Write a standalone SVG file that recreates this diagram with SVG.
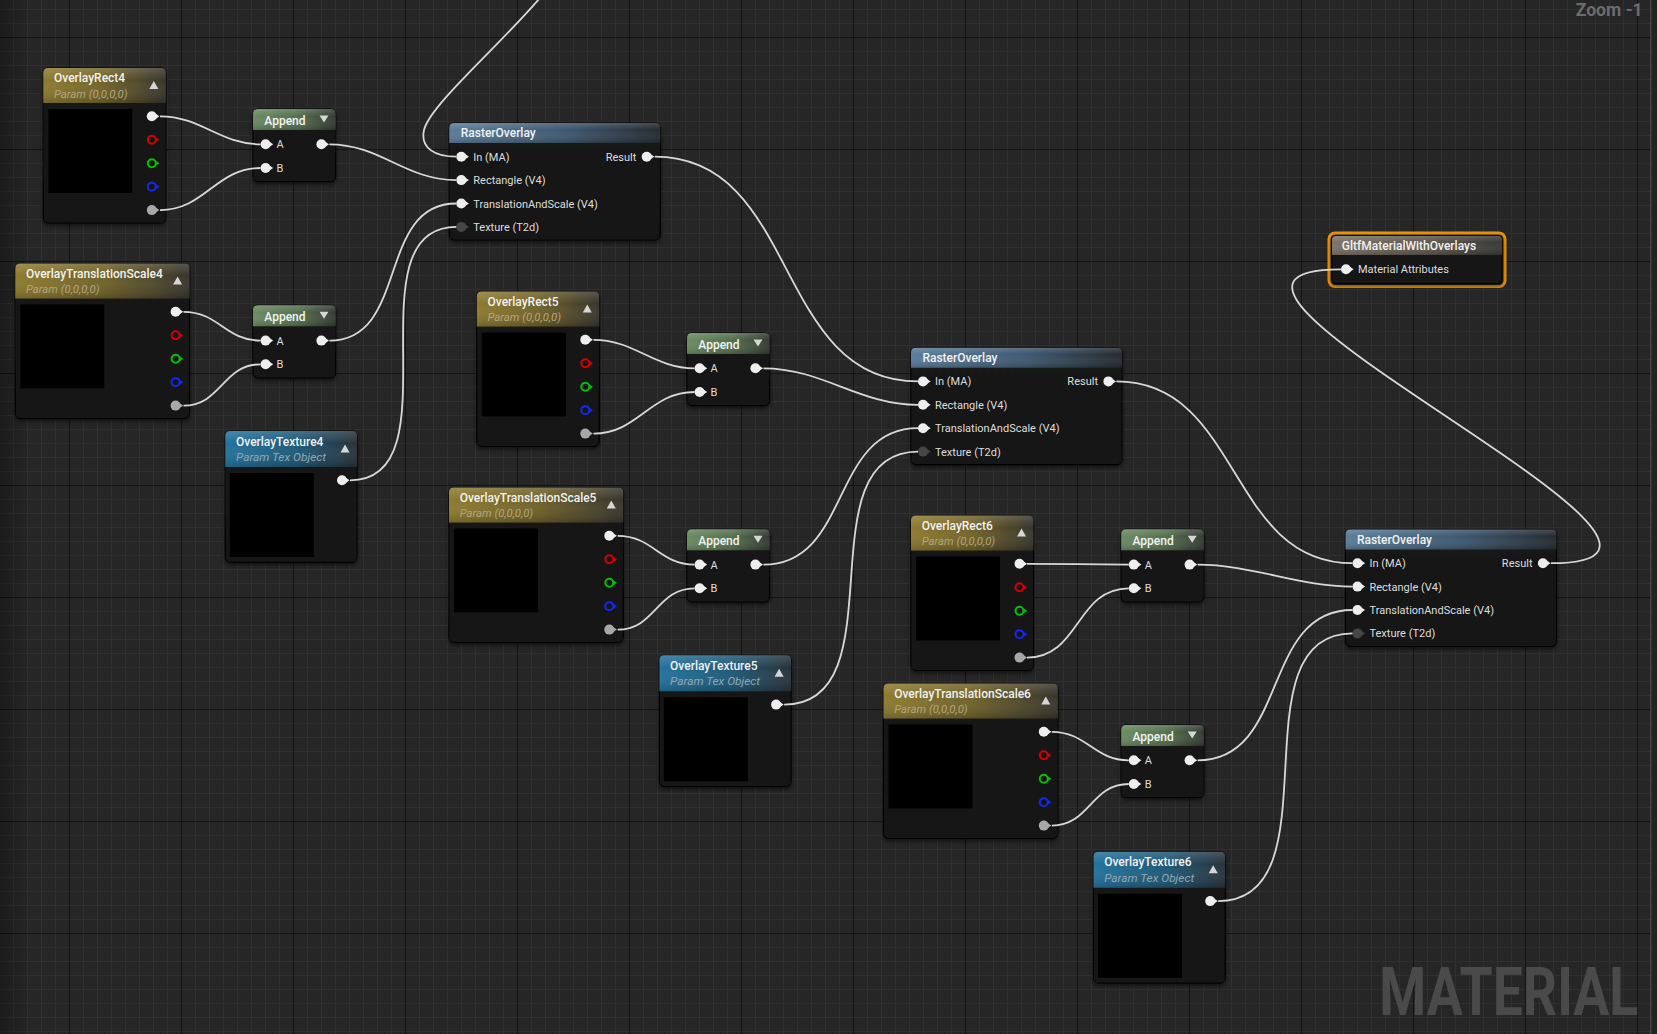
<svg xmlns="http://www.w3.org/2000/svg" xmlns:xlink="http://www.w3.org/1999/xlink" width="1657" height="1034" viewBox="0 0 1657 1034">
<defs>
<style>
.t{font-family:Roboto,"Liberation Sans",sans-serif;font-size:12px;font-weight:500;fill:#f2f2f2}
.st{font-family:Roboto,"Liberation Sans",sans-serif;font-size:11.5px;font-style:italic;fill:#b3a57a}
.sb{font-family:Roboto,"Liberation Sans",sans-serif;font-size:11.5px;font-style:italic;fill:#8ea8b6}
.pl{font-family:Roboto,"Liberation Sans",sans-serif;font-size:11px;fill:#dedede}
.nb{fill:url(#gBody);stroke:#060606;stroke-width:1;filter:url(#sh)}
.pv{fill:#000}
.tri{fill:#d6d6d6}
.w{fill:none;stroke:#d8d8d8;stroke-width:1.8}
.hg{fill:url(#gGold)}
.hb{fill:url(#gBlue)}
.ht{fill:url(#gTex)}
.ha{fill:url(#gGreen)}
.hy{fill:url(#gGray)}
.gl{fill:url(#gGloss)}
</style>
<linearGradient id="gBody" x1="0" y1="0" x2="0" y2="1"><stop offset="0" stop-color="#1a1b1a"/><stop offset="1" stop-color="#121312"/></linearGradient>
<linearGradient id="gGold" x1="0" y1="0" x2="1" y2="0"><stop offset="0" stop-color="#8e7b2f"/><stop offset="0.5" stop-color="#706228"/><stop offset="1" stop-color="#37352d"/></linearGradient>
<linearGradient id="gBlue" x1="0" y1="0" x2="1" y2="0"><stop offset="0" stop-color="#5a7d9a"/><stop offset="0.55" stop-color="#3e5870"/><stop offset="1" stop-color="#252a2f"/></linearGradient>
<linearGradient id="gTex" x1="0" y1="0" x2="1" y2="0"><stop offset="0" stop-color="#23739e"/><stop offset="0.55" stop-color="#1e5877"/><stop offset="1" stop-color="#29323a"/></linearGradient>
<linearGradient id="gGreen" x1="0" y1="0" x2="1" y2="0"><stop offset="0" stop-color="#6b8b63"/><stop offset="0.55" stop-color="#55704e"/><stop offset="1" stop-color="#343a33"/></linearGradient>
<linearGradient id="gGray" x1="0" y1="0" x2="1" y2="0"><stop offset="0" stop-color="#7d7467"/><stop offset="0.6" stop-color="#5a544c"/><stop offset="1" stop-color="#393836"/></linearGradient>
<linearGradient id="gGloss" x1="0" y1="0" x2="0" y2="1"><stop offset="0" stop-color="#fff" stop-opacity="0.16"/><stop offset="0.35" stop-color="#fff" stop-opacity="0"/><stop offset="1" stop-color="#000" stop-opacity="0.18"/></linearGradient>
<linearGradient id="gVig" x1="0" y1="0" x2="1" y2="0"><stop offset="0" stop-color="#000" stop-opacity="0.3"/><stop offset="1" stop-color="#000" stop-opacity="0"/></linearGradient>
<filter id="sh" x="-10%" y="-10%" width="120%" height="125%"><feDropShadow dx="0" dy="2" stdDeviation="2" flood-color="#000" flood-opacity="0.6"/></filter>
<pattern id="gm" width="14" height="14" patternUnits="userSpaceOnUse" x="13" y="9"><path d="M0.5,0V14M0,0.5H14" stroke="#303030" stroke-width="1"/></pattern>
<pattern id="gM" width="112" height="112" patternUnits="userSpaceOnUse" x="69" y="37"><path d="M0.5,0V112M0,0.5H112" stroke="#141414" stroke-width="1"/></pattern>
<g id="pw"><circle r="5" fill="#eeeeee"/><path d="M3.8,-2.6L7.6,0L3.8,2.6Z" fill="#eeeeee"/></g>
<g id="pr"><circle r="4" fill="none" stroke="#d40000" stroke-width="2"/><path d="M4.6,-2.3L7.6,0L4.6,2.3Z" fill="#d40000"/></g>
<g id="pg"><circle r="4" fill="none" stroke="#00c400" stroke-width="2"/><path d="M4.6,-2.3L7.6,0L4.6,2.3Z" fill="#00c400"/></g>
<g id="pb"><circle r="4" fill="none" stroke="#1428ee" stroke-width="2"/><path d="M4.6,-2.3L7.6,0L4.6,2.3Z" fill="#1428ee"/></g>
<g id="pa"><circle r="5" fill="#a8a8a8"/><path d="M3.8,-2.6L7.6,0L3.8,2.6Z" fill="#a8a8a8"/></g>
<g id="pd"><circle r="5" fill="#464646"/><path d="M3.8,-2.6L7.6,0L3.8,2.6Z" fill="#464646"/></g>
</defs>

<g id="background">
<rect width="1657" height="1034" fill="#262626"/>
<rect width="1657" height="1034" fill="url(#gm)"/>
<rect width="1657" height="1034" fill="url(#gM)"/>
<rect width="30" height="1034" fill="url(#gVig)"/>
<rect x="1651" y="0" width="6" height="1034" fill="#232323"/>
<rect x="1650" y="0" width="1.5" height="1034" fill="#444444"/>
<text x="1575.7" y="15.7" font-family="Roboto,'Liberation Sans',sans-serif" font-size="18" font-weight="700" fill="#6c6c6c" textLength="67" lengthAdjust="spacingAndGlyphs">Zoom -1</text>
<text x="1379.3" y="1015" font-family="Roboto,'Liberation Sans',sans-serif" font-size="66" font-weight="700" fill="#4a4a4a" textLength="259" lengthAdjust="spacingAndGlyphs">MATERIAL</text>
</g>

<g id="OverlayRect4" transform="translate(43.3,68)">
<rect class="nb" width="122.5" height="155" rx="5"/>
<path class="hg" d="M0,35V5Q0,0 5,0H117.5Q122.5,0 122.5,5V35Z"/><path class="gl" d="M0,35V5Q0,0 5,0H117.5Q122.5,0 122.5,5V35Z"/>
<text class="t" x="10.7" y="14">OverlayRect4</text><text class="st" x="10.7" y="29.5" textLength="73.5" lengthAdjust="spacingAndGlyphs">Param (0,0,0,0)</text>
<path class="tri" d="M106,21L110.5,13L115,21Z"/>
<rect class="pv" x="5" y="41" width="84" height="84"/>
<use href="#pw" x="108.5" y="48.3"/><use href="#pr" x="108.5" y="71.75"/><use href="#pg" x="108.5" y="95.2"/><use href="#pb" x="108.5" y="118.65"/><use href="#pa" x="108.5" y="142.1"/>
</g>

<g id="OverlayTranslationScale4" transform="translate(15.3,263.5)">
<rect class="nb" width="174.3" height="155" rx="5"/>
<path class="hg" d="M0,35V5Q0,0 5,0H169.3Q174.3,0 174.3,5V35Z"/><path class="gl" d="M0,35V5Q0,0 5,0H169.3Q174.3,0 174.3,5V35Z"/>
<text class="t" x="10.7" y="14">OverlayTranslationScale4</text><text class="st" x="10.7" y="29.5" textLength="73.5" lengthAdjust="spacingAndGlyphs">Param (0,0,0,0)</text>
<path class="tri" d="M157.8,21L162.3,13L166.8,21Z"/>
<rect class="pv" x="5" y="41" width="84" height="84"/>
<use href="#pw" x="160.3" y="48.3"/><use href="#pr" x="160.3" y="71.75"/><use href="#pg" x="160.3" y="95.2"/><use href="#pb" x="160.3" y="118.65"/><use href="#pa" x="160.3" y="142.1"/>
</g>

<g id="OverlayTexture4" transform="translate(225.3,431)">
<rect class="nb" width="131.7" height="131.3" rx="5"/>
<path class="ht" d="M0,36V5Q0,0 5,0H126.7Q131.7,0 131.7,5V36Z"/><path class="gl" d="M0,36V5Q0,0 5,0H126.7Q131.7,0 131.7,5V36Z"/>
<text class="t" x="10.7" y="14.7">OverlayTexture4</text><text class="sb" x="10.7" y="30" textLength="90" lengthAdjust="spacingAndGlyphs">Param Tex Object</text>
<path class="tri" d="M115.2,21.5L119.7,13.5L124.2,21.5Z"/>
<rect class="pv" x="4.5" y="42" width="84" height="84"/>
<use href="#pw" x="116.7" y="49.3"/>
</g>

<g id="Append1" transform="translate(253,109)">
<rect class="nb" width="82.7" height="72.7" rx="5"/>
<path class="ha" d="M0,21V5Q0,0 5,0H77.7Q82.7,0 82.7,5V21Z"/><path class="gl" d="M0,21V5Q0,0 5,0H77.7Q82.7,0 82.7,5V21Z"/>
<text class="t" x="11.3" y="15.5">Append</text>
<path class="tri" d="M66.5,6.5H75.5L71,13.5Z"/>
<use href="#pw" x="12.6" y="35.3"/><use href="#pw" x="12.6" y="59"/><use href="#pw" x="68.4" y="35.3"/>
<text class="pl" x="23.5" y="39.3">A</text><text class="pl" x="23.5" y="63">B</text>
</g>

<g id="Append2" transform="translate(253,305.3)">
<rect class="nb" width="82.7" height="72.7" rx="5"/>
<path class="ha" d="M0,21V5Q0,0 5,0H77.7Q82.7,0 82.7,5V21Z"/><path class="gl" d="M0,21V5Q0,0 5,0H77.7Q82.7,0 82.7,5V21Z"/>
<text class="t" x="11.3" y="15.5">Append</text>
<path class="tri" d="M66.5,6.5H75.5L71,13.5Z"/>
<use href="#pw" x="12.6" y="35.3"/><use href="#pw" x="12.6" y="59"/><use href="#pw" x="68.4" y="35.3"/>
<text class="pl" x="23.5" y="39.3">A</text><text class="pl" x="23.5" y="63">B</text>
</g>

<g id="RasterOverlay1" transform="translate(449.3,123)">
<rect class="nb" width="211" height="117" rx="5"/>
<path class="hb" d="M0,20V5Q0,0 5,0H206Q211,0 211,5V20Z"/><path class="gl" d="M0,20V5Q0,0 5,0H206Q211,0 211,5V20Z"/>
<text class="t" x="11.4" y="14.3">RasterOverlay</text>
<use href="#pw" x="12" y="33.7"/><use href="#pw" x="12" y="57.1"/><use href="#pw" x="12" y="80.5"/><use href="#pd" x="12" y="103.9"/><use href="#pw" x="197.4" y="33.7"/>
<text class="pl" x="24" y="37.7">In (MA)</text><text class="pl" x="24" y="61.1">Rectangle (V4)</text><text class="pl" x="24" y="84.5">TranslationAndScale (V4)</text><text class="pl" x="24" y="107.9">Texture (T2d)</text>
<text class="pl" x="187" y="37.7" text-anchor="end">Result</text>
</g>

<g id="OverlayRect5" transform="translate(476.8,291.5)">
<rect class="nb" width="122.5" height="155" rx="5"/>
<path class="hg" d="M0,35V5Q0,0 5,0H117.5Q122.5,0 122.5,5V35Z"/><path class="gl" d="M0,35V5Q0,0 5,0H117.5Q122.5,0 122.5,5V35Z"/>
<text class="t" x="10.7" y="14">OverlayRect5</text><text class="st" x="10.7" y="29.5" textLength="73.5" lengthAdjust="spacingAndGlyphs">Param (0,0,0,0)</text>
<path class="tri" d="M106,21L110.5,13L115,21Z"/>
<rect class="pv" x="5" y="41" width="84" height="84"/>
<use href="#pw" x="108.5" y="48.3"/><use href="#pr" x="108.5" y="71.75"/><use href="#pg" x="108.5" y="95.2"/><use href="#pb" x="108.5" y="118.65"/><use href="#pa" x="108.5" y="142.1"/>
</g>

<g id="Append3" transform="translate(687,333)">
<rect class="nb" width="82.7" height="72.7" rx="5"/>
<path class="ha" d="M0,21V5Q0,0 5,0H77.7Q82.7,0 82.7,5V21Z"/><path class="gl" d="M0,21V5Q0,0 5,0H77.7Q82.7,0 82.7,5V21Z"/>
<text class="t" x="11.3" y="15.5">Append</text>
<path class="tri" d="M66.5,6.5H75.5L71,13.5Z"/>
<use href="#pw" x="12.6" y="35.3"/><use href="#pw" x="12.6" y="59"/><use href="#pw" x="68.4" y="35.3"/>
<text class="pl" x="23.5" y="39.3">A</text><text class="pl" x="23.5" y="63">B</text>
</g>

<g id="OverlayTranslationScale5" transform="translate(449,487.5)">
<rect class="nb" width="174.3" height="155" rx="5"/>
<path class="hg" d="M0,35V5Q0,0 5,0H169.3Q174.3,0 174.3,5V35Z"/><path class="gl" d="M0,35V5Q0,0 5,0H169.3Q174.3,0 174.3,5V35Z"/>
<text class="t" x="10.7" y="14">OverlayTranslationScale5</text><text class="st" x="10.7" y="29.5" textLength="73.5" lengthAdjust="spacingAndGlyphs">Param (0,0,0,0)</text>
<path class="tri" d="M157.8,21L162.3,13L166.8,21Z"/>
<rect class="pv" x="5" y="41" width="84" height="84"/>
<use href="#pw" x="160.3" y="48.3"/><use href="#pr" x="160.3" y="71.75"/><use href="#pg" x="160.3" y="95.2"/><use href="#pb" x="160.3" y="118.65"/><use href="#pa" x="160.3" y="142.1"/>
</g>

<g id="Append4" transform="translate(687,529.3)">
<rect class="nb" width="82.7" height="72.7" rx="5"/>
<path class="ha" d="M0,21V5Q0,0 5,0H77.7Q82.7,0 82.7,5V21Z"/><path class="gl" d="M0,21V5Q0,0 5,0H77.7Q82.7,0 82.7,5V21Z"/>
<text class="t" x="11.3" y="15.5">Append</text>
<path class="tri" d="M66.5,6.5H75.5L71,13.5Z"/>
<use href="#pw" x="12.6" y="35.3"/><use href="#pw" x="12.6" y="59"/><use href="#pw" x="68.4" y="35.3"/>
<text class="pl" x="23.5" y="39.3">A</text><text class="pl" x="23.5" y="63">B</text>
</g>

<g id="OverlayTexture5" transform="translate(659.4,655.3)">
<rect class="nb" width="131.7" height="131.3" rx="5"/>
<path class="ht" d="M0,36V5Q0,0 5,0H126.7Q131.7,0 131.7,5V36Z"/><path class="gl" d="M0,36V5Q0,0 5,0H126.7Q131.7,0 131.7,5V36Z"/>
<text class="t" x="10.7" y="14.7">OverlayTexture5</text><text class="sb" x="10.7" y="30" textLength="90" lengthAdjust="spacingAndGlyphs">Param Tex Object</text>
<path class="tri" d="M115.2,21.5L119.7,13.5L124.2,21.5Z"/>
<rect class="pv" x="4.5" y="42" width="84" height="84"/>
<use href="#pw" x="116.7" y="49.3"/>
</g>

<g id="RasterOverlay2" transform="translate(911,347.7)">
<rect class="nb" width="211" height="117" rx="5"/>
<path class="hb" d="M0,20V5Q0,0 5,0H206Q211,0 211,5V20Z"/><path class="gl" d="M0,20V5Q0,0 5,0H206Q211,0 211,5V20Z"/>
<text class="t" x="11.4" y="14.3">RasterOverlay</text>
<use href="#pw" x="12" y="33.7"/><use href="#pw" x="12" y="57.1"/><use href="#pw" x="12" y="80.5"/><use href="#pd" x="12" y="103.9"/><use href="#pw" x="197.4" y="33.7"/>
<text class="pl" x="24" y="37.7">In (MA)</text><text class="pl" x="24" y="61.1">Rectangle (V4)</text><text class="pl" x="24" y="84.5">TranslationAndScale (V4)</text><text class="pl" x="24" y="107.9">Texture (T2d)</text>
<text class="pl" x="187" y="37.7" text-anchor="end">Result</text>
</g>

<g id="OverlayRect6" transform="translate(911,515.5)">
<rect class="nb" width="122.5" height="155" rx="5"/>
<path class="hg" d="M0,35V5Q0,0 5,0H117.5Q122.5,0 122.5,5V35Z"/><path class="gl" d="M0,35V5Q0,0 5,0H117.5Q122.5,0 122.5,5V35Z"/>
<text class="t" x="10.7" y="14">OverlayRect6</text><text class="st" x="10.7" y="29.5" textLength="73.5" lengthAdjust="spacingAndGlyphs">Param (0,0,0,0)</text>
<path class="tri" d="M106,21L110.5,13L115,21Z"/>
<rect class="pv" x="5" y="41" width="84" height="84"/>
<use href="#pw" x="108.5" y="48.3"/><use href="#pr" x="108.5" y="71.75"/><use href="#pg" x="108.5" y="95.2"/><use href="#pb" x="108.5" y="118.65"/><use href="#pa" x="108.5" y="142.1"/>
</g>

<g id="Append5" transform="translate(1121.2,529.3)">
<rect class="nb" width="82.7" height="72.7" rx="5"/>
<path class="ha" d="M0,21V5Q0,0 5,0H77.7Q82.7,0 82.7,5V21Z"/><path class="gl" d="M0,21V5Q0,0 5,0H77.7Q82.7,0 82.7,5V21Z"/>
<text class="t" x="11.3" y="15.5">Append</text>
<path class="tri" d="M66.5,6.5H75.5L71,13.5Z"/>
<use href="#pw" x="12.6" y="35.3"/><use href="#pw" x="12.6" y="59"/><use href="#pw" x="68.4" y="35.3"/>
<text class="pl" x="23.5" y="39.3">A</text><text class="pl" x="23.5" y="63">B</text>
</g>

<g id="OverlayTranslationScale6" transform="translate(883.5,683.5)">
<rect class="nb" width="174.3" height="155" rx="5"/>
<path class="hg" d="M0,35V5Q0,0 5,0H169.3Q174.3,0 174.3,5V35Z"/><path class="gl" d="M0,35V5Q0,0 5,0H169.3Q174.3,0 174.3,5V35Z"/>
<text class="t" x="10.7" y="14">OverlayTranslationScale6</text><text class="st" x="10.7" y="29.5" textLength="73.5" lengthAdjust="spacingAndGlyphs">Param (0,0,0,0)</text>
<path class="tri" d="M157.8,21L162.3,13L166.8,21Z"/>
<rect class="pv" x="5" y="41" width="84" height="84"/>
<use href="#pw" x="160.3" y="48.3"/><use href="#pr" x="160.3" y="71.75"/><use href="#pg" x="160.3" y="95.2"/><use href="#pb" x="160.3" y="118.65"/><use href="#pa" x="160.3" y="142.1"/>
</g>

<g id="Append6" transform="translate(1121.2,725)">
<rect class="nb" width="82.7" height="72.7" rx="5"/>
<path class="ha" d="M0,21V5Q0,0 5,0H77.7Q82.7,0 82.7,5V21Z"/><path class="gl" d="M0,21V5Q0,0 5,0H77.7Q82.7,0 82.7,5V21Z"/>
<text class="t" x="11.3" y="15.5">Append</text>
<path class="tri" d="M66.5,6.5H75.5L71,13.5Z"/>
<use href="#pw" x="12.6" y="35.3"/><use href="#pw" x="12.6" y="59"/><use href="#pw" x="68.4" y="35.3"/>
<text class="pl" x="23.5" y="39.3">A</text><text class="pl" x="23.5" y="63">B</text>
</g>

<g id="OverlayTexture6" transform="translate(1093.5,851.8)">
<rect class="nb" width="131.7" height="131.3" rx="5"/>
<path class="ht" d="M0,36V5Q0,0 5,0H126.7Q131.7,0 131.7,5V36Z"/><path class="gl" d="M0,36V5Q0,0 5,0H126.7Q131.7,0 131.7,5V36Z"/>
<text class="t" x="10.7" y="14.7">OverlayTexture6</text><text class="sb" x="10.7" y="30" textLength="90" lengthAdjust="spacingAndGlyphs">Param Tex Object</text>
<path class="tri" d="M115.2,21.5L119.7,13.5L124.2,21.5Z"/>
<rect class="pv" x="4.5" y="42" width="84" height="84"/>
<use href="#pw" x="116.7" y="49.3"/>
</g>

<g id="RasterOverlay3" transform="translate(1345.5,529.5)">
<rect class="nb" width="211" height="117" rx="5"/>
<path class="hb" d="M0,20V5Q0,0 5,0H206Q211,0 211,5V20Z"/><path class="gl" d="M0,20V5Q0,0 5,0H206Q211,0 211,5V20Z"/>
<text class="t" x="11.4" y="14.3">RasterOverlay</text>
<use href="#pw" x="12" y="33.7"/><use href="#pw" x="12" y="57.1"/><use href="#pw" x="12" y="80.5"/><use href="#pd" x="12" y="103.9"/><use href="#pw" x="197.4" y="33.7"/>
<text class="pl" x="24" y="37.7">In (MA)</text><text class="pl" x="24" y="61.1">Rectangle (V4)</text><text class="pl" x="24" y="84.5">TranslationAndScale (V4)</text><text class="pl" x="24" y="107.9">Texture (T2d)</text>
<text class="pl" x="187" y="37.7" text-anchor="end">Result</text>
</g>

<g id="GltfMaterialWithOverlays">
<rect x="1329" y="233" width="176" height="53.5" rx="6" fill="none" stroke="#e8930c" stroke-width="3"/>
<g transform="translate(1332,236)">
<rect class="nb" width="170" height="47.5" rx="4"/>
<path class="hy" d="M0,19V4Q0,0 4,0H166Q170,0 170,4V19Z"/><path class="gl" d="M0,19V4Q0,0 4,0H166Q170,0 170,4V19Z"/>
<text class="t" x="9.8" y="14">GltfMaterialWithOverlays</text>
<use href="#pw" x="14" y="33.3"/>
<text class="pl" x="26" y="37.3">Material Attributes</text>
</g>
</g>

<g id="connectors">
<path class="w" d="M539,-1C500,45 430,105 424,130C420,148 435,156.7 456.3,156.7"/>
<path class="w" d="M160,116.3C201,116.3 219.6,144.3 260.6,144.3"/>
<path class="w" d="M160,210.1C205,210.1 215.6,168 260.6,168"/>
<path class="w" d="M329.4,144.3C380.4,144.3 405.3,180.1 456.3,180.1"/>
<path class="w" d="M183.5,311.8C218.5,311.8 225.6,340.6 260.6,340.6"/>
<path class="w" d="M183.5,405.6C221.5,405.6 222.6,364.3 260.6,364.3"/>
<path class="w" d="M329.4,340.6C409.4,340.6 376.3,203.5 456.3,203.5"/>
<path class="w" d="M350,480.3C458,480.3 348.3,226.9 456.3,226.9"/>
<path class="w" d="M654.7,156.7C799.7,156.7 773,381.4 918,381.4"/>
<path class="w" d="M593.5,339.8C634.5,339.8 653.6,368.3 694.6,368.3"/>
<path class="w" d="M593.5,433.6C638.5,433.6 649.6,392 694.6,392"/>
<path class="w" d="M763.4,368.3C822.4,368.3 859,404.8 918,404.8"/>
<path class="w" d="M617.7,535.8C652.7,535.8 659.6,564.6 694.6,564.6"/>
<path class="w" d="M617.7,629.6C655.7,629.6 656.6,588.3 694.6,588.3"/>
<path class="w" d="M763.4,564.6C851.4,564.6 830,428.2 918,428.2"/>
<path class="w" d="M784.1,704.6C900.1,704.6 802,451.6 918,451.6"/>
<path class="w" d="M1116.4,381.4C1241.4,381.4 1227.5,563.2 1352.5,563.2"/>
<path class="w" d="M1027,563.8C1061,563.8 1094.8,564.6 1128.8,564.6"/>
<path class="w" d="M1027,657.6C1080,657.6 1075.8,588.3 1128.8,588.3"/>
<path class="w" d="M1197.6,564.6C1252.6,564.6 1297.5,586.6 1352.5,586.6"/>
<path class="w" d="M1051.8,731.8C1086.8,731.8 1093.8,760.3 1128.8,760.3"/>
<path class="w" d="M1051.8,825.6C1089.8,825.6 1090.8,784 1128.8,784"/>
<path class="w" d="M1197.6,760.3C1289.6,760.3 1260.5,610 1352.5,610"/>
<path class="w" d="M1218.2,901.1C1338.2,901.1 1232.5,633.4 1352.5,633.4"/>
<path class="w" d="M1550.9,563.2C1780.9,563.2 1111,269.3 1341,269.3"/>
</g>
</svg>
